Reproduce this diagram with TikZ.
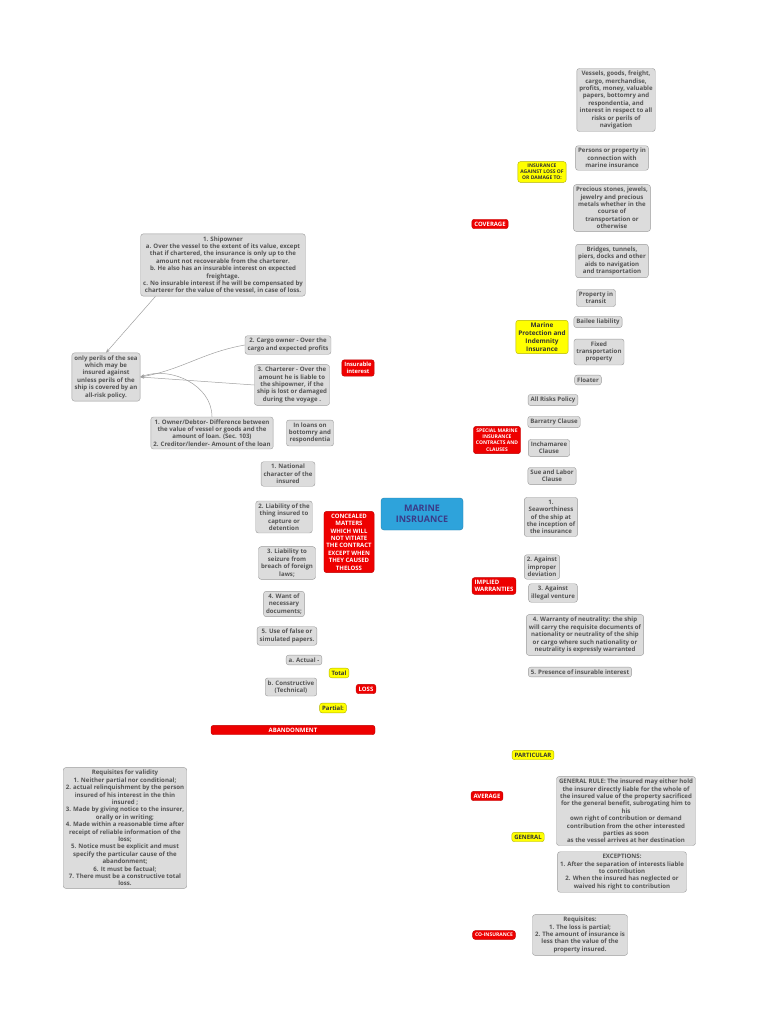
\documentclass[tikz,border=0pt]{standalone}
\usepackage{fontspec}
\setmainfont{Open Sans}
\usetikzlibrary{arrows.meta,backgrounds}
\definecolor{boxg}{HTML}{DCDCDC}
\definecolor{boxd}{HTML}{9A9A9A}
\definecolor{txtg}{HTML}{555555}
\definecolor{redb}{HTML}{EE0000}
\definecolor{yelb}{HTML}{FFFF00}
\definecolor{blueb}{HTML}{2EA3DB}
\definecolor{lineg}{HTML}{A0A0A0}
\tikzset{
 gbox/.style={draw=boxd,fill=boxg,rounded corners=2.5pt,align=center,text=txtg,font=\fontsize{6.1}{7.4}\selectfont\bfseries,inner sep=2.5pt},
 rbox/.style={draw=redb!80!black,fill=redb,rounded corners=2.5pt,align=center,text=white,font=\fontsize{6}{7.4}\selectfont\bfseries,inner sep=2.5pt},
 ybox/.style={draw=yelb!70!black,fill=yelb,rounded corners=2.5pt,align=center,text=txtg!60!black,font=\fontsize{6}{7.4}\selectfont\bfseries,inner sep=2.5pt},
 conn/.style={draw=lineg,line width=0.5pt},
 arr/.style={draw=lineg,line width=0.5pt,-{Stealth[length=4pt]}}
}
\begin{document}
\begin{tikzpicture}[x=1pt,y=-1pt]
\useasboundingbox[fill=white] (0,0) rectangle (768,1024);
\node[draw=blueb!80!black,fill=blueb,rounded corners=3pt,align=center,text=txtg!70!blue,font=\fontsize{9}{10.5}\selectfont\bfseries,minimum width=82pt,minimum height=32pt] (root) at (422,514) {MARINE\\INSRUANCE};
% right side
\node[rbox] (cov) at (490,224) {COVERAGE};
\node[ybox,font=\fontsize{5}{6}\selectfont\bfseries] (ins) at (542,172) {INSURANCE\\AGAINST LOSS OF\\OR DAMAGE TO:};
\node[gbox] (c1) at (616,100) {Vessels, goods, freight,\\cargo, merchandise,\\profits, money, valuable\\papers, bottomry and\\respondentia, and\\interest in respect to all\\risks or perils of\\navigation};
\node[gbox] (c2) at (612,158) {Persons or property in\\connection with\\marine insurance};
\node[gbox] (c3) at (612,208) {Precious stones, jewels,\\jewelry and precious\\metals whether in the\\course of\\transportation or\\otherwise};
\node[gbox] (c4) at (612,261) {Bridges, tunnels,\\piers, docks and other\\aids to navigation\\and transportation};
\node[ybox,font=\fontsize{6.4}{7.8}\selectfont\bfseries] (mp) at (542,337) {Marine\\Protection and\\Indemnity\\Insurance};
\node[gbox] (p1) at (596,298) {Property in\\transit};
\node[gbox] (p2) at (598,322) {Bailee liability};
\node[gbox] (p3) at (599,352) {Fixed\\transportation\\property};
\node[gbox] (p4) at (588,380) {Floater};
\node[rbox,font=\fontsize{5}{6.2}\selectfont\bfseries] (spc) at (497,440) {SPECIAL MARINE\\INSURANCE\\CONTRACTS AND\\CLAUSES};
\node[gbox] (s1) at (553,400) {All Risks Policy};
\node[gbox] (s2) at (554,422) {Barratry Clause};
\node[gbox] (s3) at (549,448) {Inchamaree\\Clause};
\node[gbox] (s4) at (552,476) {Sue and Labor\\Clause};
\node[rbox,align=left] (imp) at (494,586) {IMPLIED\\WARRANTIES};
\node[gbox] (w1) at (551,517) {1.\\Seaworthiness\\of the ship at\\the inception of\\the insurance};
\node[gbox] (w2) at (542,567) {2. Against\\improper\\deviation};
\node[gbox] (w3) at (553,593) {3. Against\\illegal venture};
\node[gbox] (w4) at (585,635) {4. Warranty of neutrality: the ship\\will carry the requisite documents of\\nationality or neutrality of the ship\\or cargo where such nationality or\\neutrality is expressly warranted};
\node[gbox] (w5) at (580,672) {5. Presence of insurable interest};
\node[rbox] (avg) at (487,796) {AVERAGE};
\node[ybox] (par) at (533,755) {PARTICULAR};
\node[ybox] (gen) at (528,837) {GENERAL};
\node[gbox] (gr) at (626,811) {GENERAL RULE: The insured may either hold\\the insurer directly liable for the whole of\\the insured value of the property sacrificed\\for the general benefit, subrogating him to\\his\\own right of contribution or demand\\contribution from the other interested\\parties as soon\\as the vessel arrives at her destination};
\node[gbox] (exc) at (622,872) {EXCEPTIONS:\\1. After the separation of interests liable\\to contribution\\2. When the insured has neglected or\\waived his right to contribution};
\node[rbox,font=\fontsize{5}{6}\selectfont\bfseries] (coi) at (494,935) {CO-INSURANCE};
\node[gbox] (req) at (580,935) {Requisites:\\1. The loss is partial;\\2. The amount of insurance is\\less than the value of the\\property insured.};
% left side
\node[rbox,font=\fontsize{5.8}{7}\selectfont\bfseries] (isi) at (358,368) {Insurable\\interest};
\node[gbox] (ship) at (223,265) {1. Shipowner\\a. Over the vessel to the extent of its value, except\\that if chartered, the insurance is only up to the\\amount not recoverable from the charterer.\\b. He also has an insurable interest on expected\\freightage.\\c. No insurable interest if he will be compensated by\\charterer for the value of the vessel, in case of loss.};
\node[gbox] (cargo) at (288,345) {2. Cargo owner - Over the\\cargo and expected profits};
\node[gbox] (char) at (292,385) {3. Charterer - Over the\\amount he is liable to\\the shipowner, if the\\ship is lost or damaged\\during the voyage .};
\node[gbox] (loan) at (310,433) {In loans on\\bottomry and\\respondentia};
\node[gbox] (own) at (212,433) {1. Owner/Debtor- Difference between\\the value of vessel or goods and the\\amount of loan. (Sec. 103)\\2. Creditor/lender- Amount of the loan};
\node[gbox] (per) at (106,377) {only perils of the sea\\which may be\\insured against\\unless perils of the\\ship is covered by an\\all-risk policy.};
\node[rbox] (con) at (349,542) {CONCEALED\\MATTERS\\WHICH WILL\\NOT VITIATE\\THE CONTRACT\\EXCEPT WHEN\\THEY CAUSED\\THELOSS};
\node[gbox] (n1) at (288,474) {1. National\\character of the\\insured};
\node[gbox] (n2) at (284,517) {2. Liability of the\\thing insured to\\capture or\\detention};
\node[gbox] (n3) at (287,563) {3. Liability to\\seizure from\\breach of foreign\\laws;};
\node[gbox] (n4) at (284,604) {4. Want of\\necessary\\documents;};
\node[gbox] (n5) at (287,636) {5. Use of false or\\simulated papers.};
\node[gbox] (act) at (304,660) {a. Actual -};
\node[ybox] (tot) at (339,673) {Total};
\node[gbox] (ctr) at (291,687) {b. Constructive\\(Technical)};
\node[rbox] (loss) at (366,689) {LOSS};
\node[ybox] (prt) at (333,708) {Partial:};
\node[rbox,minimum width=164pt] (aban) at (293,730) {ABANDONMENT};
\node[gbox] (val) at (125,828) {Requisites for validity\\1. Neither partial nor conditional;\\2. actual relinquishment by the person\\insured of his interest in the thin\\insured ;\\3. Made by giving notice to the insurer,\\orally or in writing;\\4. Made within a reasonable time after\\receipt of reliable information of the\\loss;\\5. Notice must be explicit and must\\specify the particular cause of the\\abandonment;\\6. It must be factual;\\7. There must be a constructive total\\loss.};
\begin{scope}[on background layer]
\foreach \n in {cov,spc}{\draw[conn] (root.center) to[out=90,in=180] (\n.west);}
\foreach \n in {imp,avg,coi}{\draw[conn] (root.center) to[out=-90,in=180] (\n.west);}
\foreach \n in {isi}{\draw[conn] (root.center) to[out=90,in=0] (\n.east);}
\foreach \n in {con,loss,aban}{\draw[conn] (root.center) to[out=-90,in=0] (\n.east);}
\foreach \p/\c in {cov/ins,cov/mp,ins/c1,ins/c2,ins/c3,ins/c4,mp/p1,mp/p2,mp/p3,mp/p4,spc/s1,spc/s2,spc/s3,spc/s4,imp/w1,imp/w2,imp/w3,imp/w4,imp/w5,avg/par,avg/gen,gen/gr,gen/exc,coi/req}{\draw[conn] (\p.center) to[out=\ifdim\pgfkeysvalueof{/pgf/minimum width}<0pt 0\else 0\fi,in=180] (\c.west);}
\foreach \p/\c in {isi/ship,isi/cargo,isi/char,isi/loan,con/n1,con/n2,con/n3,con/n4,con/n5,loss/tot,loss/prt,tot/act,tot/ctr}{\draw[conn] (\p.center) to[out=180,in=0] (\c.east);}
\draw[conn,line width=1pt] (loan.west) -- (own.east);
\draw[conn] (aban.center) to[out=-90,in=0] (val.east);
\end{scope}
\draw[arr] (ship.south west) ++(15,0) -- (per.north);
\draw[arr] (cargo.west) to[out=190,in=10] (per.east);
\draw[arr] (char.west) -- (per.east);
\draw[arr] (own.north) to[out=90,in=20] (per.east);
\end{tikzpicture}
\end{document}
